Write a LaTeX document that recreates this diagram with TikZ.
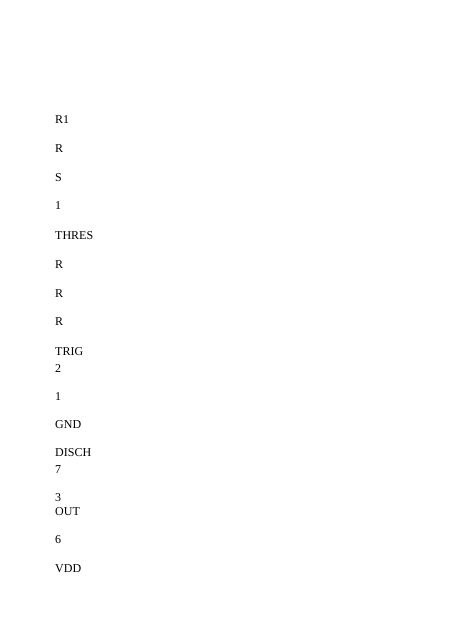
\documentclass[tikz,border=0pt]{standalone}
\usepackage{fontspec}
\setmainfont{Liberation Serif}
\begin{document}
\begin{tikzpicture}[x=1pt,y=1pt,lbl/.style={anchor=base west,inner sep=0pt,font=\fontsize{12}{14}\selectfont}]
\useasboundingbox (0,0) rectangle (453,640);
\node[lbl] (r1) at (55,640-124) {R1};
\node[lbl] (ra) at (55,640-153) {R};
\node[lbl] (s) at (55,640-182) {S};
\node[lbl] (one) at (55,640-210) {1};
\node[lbl] (thres) at (55,640-240) {THRES};
\node[lbl] (rb) at (55,640-269) {R};
\node[lbl] (rc) at (55,640-298) {R};
\node[lbl] (rd) at (55,640-326) {R};
\node[lbl] (trig) at (55,640-356) {TRIG};
\node[lbl] (two) at (55,640-373) {2};
\node[lbl] (oneb) at (55,640-401) {1};
\node[lbl] (gnd) at (55,640-429) {GND};
\node[lbl] (disch) at (55,640-457) {DISCH};
\node[lbl] (seven) at (55,640-474) {7};
\node[lbl] (three) at (55,640-502) {3};
\node[lbl] (out) at (55,640-516) {OUT};
\node[lbl] (six) at (55,640-544) {6};
\node[lbl] (vdd) at (55,640-573) {VDD};
\end{tikzpicture}
\end{document}
